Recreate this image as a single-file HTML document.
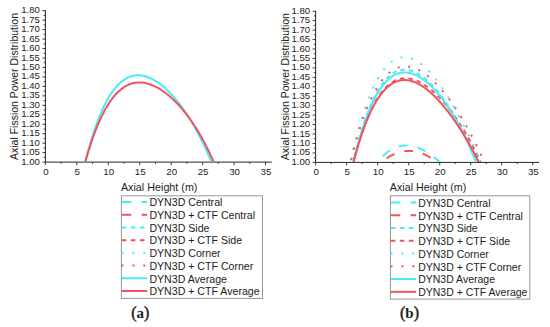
<!DOCTYPE html>
<html><head><meta charset="utf-8"><style>
html,body{margin:0;padding:0;background:#fff;overflow:hidden;}
svg{display:block;font-family:"Liberation Sans",sans-serif;}
text{fill:#1c1c1c;} .b{letter-spacing:0.03px;} .t{fill:#222;}
</style></head><body>
<svg width="550" height="327" viewBox="0 0 550 327">
<defs>
<clipPath id="clipL"><rect x="45.9" y="0" width="226.404" height="161.6"/></clipPath>
<clipPath id="clipR"><rect x="316.1" y="0" width="223.41600000000003" height="161.9"/></clipPath>
</defs>
<path d="M45.4 10.20 V162.1 H271.80" fill="none" stroke="#262626" stroke-width="1"/>
<text x="39.90" y="164.60" text-anchor="end" class="t" font-size="9.6">1.00</text>
<text x="39.90" y="155.14" text-anchor="end" class="t" font-size="9.6">1.05</text>
<text x="39.90" y="145.67" text-anchor="end" class="t" font-size="9.6">1.10</text>
<text x="39.90" y="136.21" text-anchor="end" class="t" font-size="9.6">1.15</text>
<text x="39.90" y="126.75" text-anchor="end" class="t" font-size="9.6">1.20</text>
<text x="39.90" y="117.29" text-anchor="end" class="t" font-size="9.6">1.25</text>
<text x="39.90" y="107.82" text-anchor="end" class="t" font-size="9.6">1.30</text>
<text x="39.90" y="98.36" text-anchor="end" class="t" font-size="9.6">1.35</text>
<text x="39.90" y="88.90" text-anchor="end" class="t" font-size="9.6">1.40</text>
<text x="39.90" y="79.44" text-anchor="end" class="t" font-size="9.6">1.45</text>
<text x="39.90" y="69.97" text-anchor="end" class="t" font-size="9.6">1.50</text>
<text x="39.90" y="60.51" text-anchor="end" class="t" font-size="9.6">1.55</text>
<text x="39.90" y="51.05" text-anchor="end" class="t" font-size="9.6">1.60</text>
<text x="39.90" y="41.59" text-anchor="end" class="t" font-size="9.6">1.65</text>
<text x="39.90" y="32.12" text-anchor="end" class="t" font-size="9.6">1.70</text>
<text x="39.90" y="22.66" text-anchor="end" class="t" font-size="9.6">1.75</text>
<text x="39.90" y="13.20" text-anchor="end" class="t" font-size="9.6">1.80</text>
<text x="45.90" y="174.70" text-anchor="middle" class="t" font-size="9.75">0</text>
<text x="77.34" y="174.70" text-anchor="middle" class="t" font-size="9.75">5</text>
<text x="108.79" y="174.70" text-anchor="middle" class="t" font-size="9.75">10</text>
<text x="140.23" y="174.70" text-anchor="middle" class="t" font-size="9.75">15</text>
<text x="171.68" y="174.70" text-anchor="middle" class="t" font-size="9.75">20</text>
<text x="203.12" y="174.70" text-anchor="middle" class="t" font-size="9.75">25</text>
<text x="234.57" y="174.70" text-anchor="middle" class="t" font-size="9.75">30</text>
<text x="266.01" y="174.70" text-anchor="middle" class="t" font-size="9.75">35</text>
<path d="M42.40 162.10H45.4M43.70 157.37H45.4M42.40 152.64H45.4M43.70 147.91H45.4M42.40 143.17H45.4M43.70 138.44H45.4M42.40 133.71H45.4M43.70 128.98H45.4M42.40 124.25H45.4M43.70 119.52H45.4M42.40 114.79H45.4M43.70 110.06H45.4M42.40 105.32H45.4M43.70 100.59H45.4M42.40 95.86H45.4M43.70 91.13H45.4M42.40 86.40H45.4M43.70 81.67H45.4M42.40 76.94H45.4M43.70 72.21H45.4M42.40 67.47H45.4M43.70 62.74H45.4M42.40 58.01H45.4M43.70 53.28H45.4M42.40 48.55H45.4M43.70 43.82H45.4M42.40 39.09H45.4M43.70 34.36H45.4M42.40 29.62H45.4M43.70 24.89H45.4M42.40 20.16H45.4M43.70 15.43H45.4M42.40 10.70H45.4M45.40 162.1V165.1M61.12 162.1V163.79999999999998M76.84 162.1V165.1M92.57 162.1V163.79999999999998M108.29 162.1V165.1M124.01 162.1V163.79999999999998M139.73 162.1V165.1M155.46 162.1V163.79999999999998M171.18 162.1V165.1M186.90 162.1V163.79999999999998M202.62 162.1V165.1M218.35 162.1V163.79999999999998M234.07 162.1V165.1M249.79 162.1V163.79999999999998M265.51 162.1V165.1" stroke="#262626" stroke-width="0.9" fill="none"/>
<text transform="translate(18.3 86.5) rotate(-90)" text-anchor="middle" font-size="10.5">Axial Fission Power Distribution</text>
<text x="159.2" y="191.0" text-anchor="middle" class="b" font-size="10.7">Axial Height (m)</text>
<g clip-path="url(#clipL)">
<path d="M84.82 163.60 L85.46 161.05 L86.10 158.54 L86.74 156.09 L87.38 153.68 L88.02 151.32 L88.66 149.01 L89.30 146.75 L89.94 144.53 L90.58 142.35 L91.21 140.23 L91.85 138.14 L92.49 136.10 L93.13 134.10 L93.77 132.15 L94.41 130.24 L95.05 128.37 L95.69 126.54 L96.33 124.75 L96.96 123.00 L97.60 121.29 L98.24 119.63 L98.88 118.00 L99.52 116.40 L100.16 114.85 L100.80 113.33 L101.44 111.85 L102.08 110.41 L102.72 109.00 L103.35 107.63 L103.99 106.30 L104.63 104.99 L105.27 103.73 L105.91 102.49 L106.55 101.29 L107.19 100.12 L107.83 98.99 L108.47 97.88 L109.10 96.81 L109.74 95.77 L110.38 94.76 L111.02 93.78 L111.66 92.83 L112.30 91.91 L112.94 91.02 L113.58 90.16 L114.22 89.32 L114.86 88.52 L115.49 87.74 L116.13 86.99 L116.77 86.27 L117.41 85.57 L118.05 84.90 L118.69 84.25 L119.33 83.63 L119.97 83.04 L120.61 82.47 L121.24 81.92 L121.88 81.40 L122.52 80.90 L123.16 80.43 L123.80 79.97 L124.44 79.55 L125.08 79.14 L125.72 78.76 L126.36 78.39 L126.99 78.05 L127.63 77.73 L128.27 77.44 L128.91 77.16 L129.55 76.90 L130.19 76.67 L130.83 76.45 L131.47 76.25 L132.11 76.07 L132.75 75.91 L133.38 75.77 L134.02 75.65 L134.66 75.55 L135.30 75.47 L135.94 75.40 L136.58 75.35 L137.22 75.32 L137.86 75.30 L138.50 75.30 L139.13 75.32 L139.77 75.36 L140.41 75.41 L141.05 75.48 L141.69 75.56 L142.33 75.66 L142.97 75.78 L143.61 75.91 L144.25 76.05 L144.89 76.21 L145.52 76.39 L146.16 76.58 L146.80 76.78 L147.44 77.00 L148.08 77.23 L148.72 77.48 L149.36 77.74 L150.00 78.01 L150.64 78.30 L151.27 78.60 L151.91 78.91 L152.55 79.24 L153.19 79.58 L153.83 79.93 L154.47 80.30 L155.11 80.68 L155.75 81.07 L156.39 81.47 L157.02 81.89 L157.66 82.32 L158.30 82.76 L158.94 83.21 L159.58 83.67 L160.22 84.15 L160.86 84.64 L161.50 85.14 L162.14 85.65 L162.78 86.17 L163.41 86.71 L164.05 87.26 L164.69 87.81 L165.33 88.38 L165.97 88.97 L166.61 89.56 L167.25 90.16 L167.89 90.78 L168.53 91.40 L169.16 92.04 L169.80 92.69 L170.44 93.35 L171.08 94.02 L171.72 94.71 L172.36 95.40 L173.00 96.11 L173.64 96.82 L174.28 97.55 L174.92 98.29 L175.55 99.04 L176.19 99.80 L176.83 100.58 L177.47 101.36 L178.11 102.16 L178.75 102.97 L179.39 103.79 L180.03 104.62 L180.67 105.46 L181.30 106.32 L181.94 107.19 L182.58 108.07 L183.22 108.96 L183.86 109.86 L184.50 110.78 L185.14 111.70 L185.78 112.64 L186.42 113.60 L187.06 114.56 L187.69 115.54 L188.33 116.53 L188.97 117.54 L189.61 118.55 L190.25 119.58 L190.89 120.62 L191.53 121.68 L192.17 122.75 L192.81 123.84 L193.44 124.93 L194.08 126.04 L194.72 127.17 L195.36 128.31 L196.00 129.47 L196.64 130.63 L197.28 131.82 L197.92 133.02 L198.56 134.23 L199.19 135.46 L199.83 136.71 L200.47 137.97 L201.11 139.24 L201.75 140.54 L202.39 141.85 L203.03 143.17 L203.67 144.52 L204.31 145.87 L204.95 147.25 L205.58 148.65 L206.22 150.06 L206.86 151.49 L207.50 152.94 L208.14 154.40 L208.78 155.89 L209.42 157.39 L210.06 158.91 L210.70 160.46 L211.33 162.02 L211.97 163.60" fill="none" stroke="#48ECF6" stroke-width="2"/>
<path d="M84.85 163.60 L85.50 161.25 L86.15 158.95 L86.80 156.69 L87.45 154.48 L88.10 152.31 L88.75 150.18 L89.41 148.10 L90.06 146.06 L90.71 144.07 L91.36 142.11 L92.01 140.20 L92.66 138.32 L93.31 136.49 L93.96 134.70 L94.61 132.94 L95.26 131.22 L95.92 129.55 L96.57 127.91 L97.22 126.30 L97.87 124.73 L98.52 123.20 L99.17 121.71 L99.82 120.25 L100.47 118.83 L101.12 117.44 L101.78 116.08 L102.43 114.76 L103.08 113.47 L103.73 112.21 L104.38 110.99 L105.03 109.79 L105.68 108.63 L106.33 107.50 L106.98 106.40 L107.63 105.33 L108.29 104.29 L108.94 103.28 L109.59 102.30 L110.24 101.34 L110.89 100.42 L111.54 99.52 L112.19 98.65 L112.84 97.81 L113.49 96.99 L114.14 96.20 L114.80 95.44 L115.45 94.70 L116.10 93.99 L116.75 93.30 L117.40 92.63 L118.05 91.99 L118.70 91.38 L119.35 90.79 L120.00 90.22 L120.65 89.67 L121.31 89.15 L121.96 88.64 L122.61 88.16 L123.26 87.71 L123.91 87.27 L124.56 86.85 L125.21 86.46 L125.86 86.08 L126.51 85.73 L127.17 85.39 L127.82 85.08 L128.47 84.78 L129.12 84.51 L129.77 84.25 L130.42 84.01 L131.07 83.79 L131.72 83.59 L132.37 83.40 L133.02 83.23 L133.68 83.08 L134.33 82.95 L134.98 82.83 L135.63 82.73 L136.28 82.65 L136.93 82.58 L137.58 82.53 L138.23 82.49 L138.88 82.47 L139.53 82.46 L140.19 82.47 L140.84 82.50 L141.49 82.54 L142.14 82.59 L142.79 82.66 L143.44 82.74 L144.09 82.84 L144.74 82.95 L145.39 83.07 L146.05 83.21 L146.70 83.36 L147.35 83.52 L148.00 83.70 L148.65 83.89 L149.30 84.09 L149.95 84.31 L150.60 84.54 L151.25 84.78 L151.90 85.03 L152.56 85.29 L153.21 85.57 L153.86 85.86 L154.51 86.16 L155.16 86.47 L155.81 86.80 L156.46 87.13 L157.11 87.48 L157.76 87.84 L158.41 88.21 L159.07 88.59 L159.72 88.98 L160.37 89.38 L161.02 89.79 L161.67 90.22 L162.32 90.65 L162.97 91.10 L163.62 91.56 L164.27 92.02 L164.92 92.50 L165.58 92.99 L166.23 93.49 L166.88 94.00 L167.53 94.52 L168.18 95.05 L168.83 95.60 L169.48 96.15 L170.13 96.71 L170.78 97.29 L171.44 97.87 L172.09 98.47 L172.74 99.07 L173.39 99.69 L174.04 100.31 L174.69 100.95 L175.34 101.60 L175.99 102.26 L176.64 102.93 L177.29 103.61 L177.95 104.30 L178.60 105.00 L179.25 105.71 L179.90 106.44 L180.55 107.17 L181.20 107.92 L181.85 108.67 L182.50 109.44 L183.15 110.22 L183.80 111.01 L184.46 111.82 L185.11 112.63 L185.76 113.46 L186.41 114.29 L187.06 115.14 L187.71 116.00 L188.36 116.88 L189.01 117.76 L189.66 118.66 L190.32 119.57 L190.97 120.50 L191.62 121.43 L192.27 122.38 L192.92 123.34 L193.57 124.32 L194.22 125.31 L194.87 126.31 L195.52 127.33 L196.17 128.36 L196.83 129.40 L197.48 130.46 L198.13 131.53 L198.78 132.62 L199.43 133.72 L200.08 134.84 L200.73 135.97 L201.38 137.11 L202.03 138.28 L202.68 139.45 L203.34 140.65 L203.99 141.86 L204.64 143.08 L205.29 144.33 L205.94 145.59 L206.59 146.86 L207.24 148.16 L207.89 149.47 L208.54 150.80 L209.19 152.14 L209.85 153.51 L210.50 154.89 L211.15 156.30 L211.80 157.72 L212.45 159.16 L213.10 160.62 L213.75 162.10 L214.40 163.60" fill="none" stroke="#F4525A" stroke-width="2"/>
</g>
<rect x="121.4" y="195.8" width="141.1" height="102.6" fill="#fff" stroke="#969696" stroke-width="1"/>
<path d="M121.80 202.00h9.5M141.60 202.00H147.20" stroke="#48ECF6" stroke-width="2"/>
<text x="149.40" y="206.25" font-size="10.6">DYN3D Central</text>
<path d="M121.80 214.71h9.5M141.60 214.71H147.20" stroke="#F4525A" stroke-width="2"/>
<text x="149.40" y="218.96" font-size="10.6">DYN3D + CTF Central</text>
<path d="M121.80 227.42h4.6m4.4 0h4.6m4.4 0h4.6" stroke="#48ECF6" stroke-width="2"/>
<text x="149.40" y="231.67" font-size="10.6">DYN3D Side</text>
<path d="M121.80 240.13h4.6m4.4 0h4.6m4.4 0h4.6" stroke="#F4525A" stroke-width="2"/>
<text x="149.40" y="244.38" font-size="10.6">DYN3D + CTF Side</text>
<path d="M121.50 252.84h2m8.9 0h2m8.9 0h2" stroke="#48ECF6" stroke-width="2"/>
<text x="149.40" y="257.09" font-size="10.6">DYN3D Corner</text>
<path d="M121.50 265.55h2m8.9 0h2m8.9 0h2" stroke="#F4525A" stroke-width="2"/>
<text x="149.40" y="269.80" font-size="10.6">DYN3D + CTF Corner</text>
<path d="M121.80 278.26H147.20" stroke="#48ECF6" stroke-width="2"/>
<text x="149.40" y="282.51" font-size="10.6">DYN3D Average</text>
<path d="M121.80 290.97H147.20" stroke="#F4525A" stroke-width="2"/>
<text x="149.40" y="295.22" font-size="10.6">DYN3D + CTF Average</text>
<text x="140.3" y="317.6" text-anchor="middle" font-family="Liberation Serif, serif" font-weight="bold" font-size="15" style="stroke:none"><tspan font-size="16" font-weight="normal" dy="0.5" style="stroke:#161616;stroke-width:0.45px">(</tspan><tspan dy="-0.5">a</tspan><tspan font-size="16" font-weight="normal" dy="0.5" style="stroke:#161616;stroke-width:0.45px">)</tspan></text>
<path d="M315.6 10.70 V162.4 H539.02" fill="none" stroke="#262626" stroke-width="1"/>
<text x="310.10" y="164.90" text-anchor="end" class="t" font-size="9.6">1.00</text>
<text x="310.10" y="155.45" text-anchor="end" class="t" font-size="9.6">1.05</text>
<text x="310.10" y="146.00" text-anchor="end" class="t" font-size="9.6">1.10</text>
<text x="310.10" y="136.55" text-anchor="end" class="t" font-size="9.6">1.15</text>
<text x="310.10" y="127.10" text-anchor="end" class="t" font-size="9.6">1.20</text>
<text x="310.10" y="117.65" text-anchor="end" class="t" font-size="9.6">1.25</text>
<text x="310.10" y="108.20" text-anchor="end" class="t" font-size="9.6">1.30</text>
<text x="310.10" y="98.75" text-anchor="end" class="t" font-size="9.6">1.35</text>
<text x="310.10" y="89.30" text-anchor="end" class="t" font-size="9.6">1.40</text>
<text x="310.10" y="79.85" text-anchor="end" class="t" font-size="9.6">1.45</text>
<text x="310.10" y="70.40" text-anchor="end" class="t" font-size="9.6">1.50</text>
<text x="310.10" y="60.95" text-anchor="end" class="t" font-size="9.6">1.55</text>
<text x="310.10" y="51.50" text-anchor="end" class="t" font-size="9.6">1.60</text>
<text x="310.10" y="42.05" text-anchor="end" class="t" font-size="9.6">1.65</text>
<text x="310.10" y="32.60" text-anchor="end" class="t" font-size="9.6">1.70</text>
<text x="310.10" y="23.15" text-anchor="end" class="t" font-size="9.6">1.75</text>
<text x="310.10" y="13.70" text-anchor="end" class="t" font-size="9.6">1.80</text>
<text x="316.10" y="175.00" text-anchor="middle" class="t" font-size="9.75">0</text>
<text x="347.13" y="175.00" text-anchor="middle" class="t" font-size="9.75">5</text>
<text x="378.16" y="175.00" text-anchor="middle" class="t" font-size="9.75">10</text>
<text x="409.19" y="175.00" text-anchor="middle" class="t" font-size="9.75">15</text>
<text x="440.22" y="175.00" text-anchor="middle" class="t" font-size="9.75">20</text>
<text x="471.25" y="175.00" text-anchor="middle" class="t" font-size="9.75">25</text>
<text x="502.28" y="175.00" text-anchor="middle" class="t" font-size="9.75">30</text>
<text x="533.31" y="175.00" text-anchor="middle" class="t" font-size="9.75">35</text>
<path d="M312.60 162.40H315.6M313.90 157.68H315.6M312.60 152.95H315.6M313.90 148.22H315.6M312.60 143.50H315.6M313.90 138.78H315.6M312.60 134.05H315.6M313.90 129.32H315.6M312.60 124.60H315.6M313.90 119.88H315.6M312.60 115.15H315.6M313.90 110.43H315.6M312.60 105.70H315.6M313.90 100.97H315.6M312.60 96.25H315.6M313.90 91.53H315.6M312.60 86.80H315.6M313.90 82.08H315.6M312.60 77.35H315.6M313.90 72.62H315.6M312.60 67.90H315.6M313.90 63.17H315.6M312.60 58.45H315.6M313.90 53.72H315.6M312.60 49.00H315.6M313.90 44.28H315.6M312.60 39.55H315.6M313.90 34.83H315.6M312.60 30.10H315.6M313.90 25.38H315.6M312.60 20.65H315.6M313.90 15.93H315.6M312.60 11.20H315.6M315.60 162.4V165.4M331.12 162.4V164.1M346.63 162.4V165.4M362.15 162.4V164.1M377.66 162.4V165.4M393.18 162.4V164.1M408.69 162.4V165.4M424.21 162.4V164.1M439.72 162.4V165.4M455.24 162.4V164.1M470.75 162.4V165.4M486.27 162.4V164.1M501.78 162.4V165.4M517.30 162.4V164.1M532.81 162.4V165.4" stroke="#262626" stroke-width="0.9" fill="none"/>
<text transform="translate(288.6 86.6) rotate(-90)" text-anchor="middle" font-size="10.5">Axial Fission Power Distribution</text>
<text x="428.0" y="191.4" text-anchor="middle" class="b" font-size="10.7">Axial Height (m)</text>
<g clip-path="url(#clipR)">
<path d="M375.78 163.90 L376.11 163.48 L376.44 163.06 L376.77 162.65 L377.10 162.24 L377.43 161.84 L377.77 161.45 L378.10 161.06 L378.43 160.67 L378.76 160.29 L379.09 159.92 L379.42 159.55 L379.76 159.18 L380.09 158.83 L380.42 158.47 L380.75 158.12 L381.08 157.78 L381.41 157.44 L381.74 157.11 L382.08 156.78 L382.41 156.46 L382.74 156.14 L383.07 155.83 L383.40 155.52 L383.73 155.22 L384.07 154.92 L384.40 154.63 L384.73 154.34 L385.06 154.06 L385.39 153.78 L385.72 153.51 L386.05 153.24 L386.39 152.98 L386.72 152.72 L387.05 152.47 L387.38 152.22 L387.71 151.98 L388.04 151.74 L388.37 151.50 L388.71 151.27 L389.04 151.05 L389.37 150.83 L389.70 150.61 L390.03 150.40 L390.36 150.20 L390.70 150.00 L391.03 149.80 L391.36 149.61 L391.69 149.42 L392.02 149.24 L392.35 149.06 L392.68 148.89 L393.02 148.72 L393.35 148.56 L393.68 148.40 L394.01 148.24 L394.34 148.09 L394.67 147.94 L395.01 147.80 L395.34 147.67 L395.67 147.53 L396.00 147.40 L396.33 147.28 L396.66 147.16 L396.99 147.04 L397.33 146.93 L397.66 146.83 L397.99 146.72 L398.32 146.62 L398.65 146.53 L398.98 146.44 L399.31 146.35 L399.65 146.27 L399.98 146.20 L400.31 146.12 L400.64 146.05 L400.97 145.99 L401.30 145.93 L401.64 145.87 L401.97 145.82 L402.30 145.77 L402.63 145.72 L402.96 145.68 L403.29 145.65 L403.62 145.61 L403.96 145.59 L404.29 145.56 L404.62 145.54 L404.95 145.52 L405.28 145.51 L405.61 145.50 L405.95 145.50 L406.28 145.49 L406.61 145.50 L406.94 145.50 L407.27 145.51 L407.60 145.53 L407.93 145.54 L408.27 145.57 L408.60 145.59 L408.93 145.62 L409.26 145.65 L409.59 145.69 L409.92 145.73 L410.25 145.77 L410.59 145.82 L410.92 145.87 L411.25 145.92 L411.58 145.98 L411.91 146.04 L412.24 146.11 L412.58 146.17 L412.91 146.25 L413.24 146.32 L413.57 146.40 L413.90 146.48 L414.23 146.57 L414.56 146.66 L414.90 146.75 L415.23 146.85 L415.56 146.94 L415.89 147.05 L416.22 147.15 L416.55 147.26 L416.89 147.37 L417.22 147.49 L417.55 147.61 L417.88 147.73 L418.21 147.86 L418.54 147.99 L418.87 148.12 L419.21 148.25 L419.54 148.39 L419.87 148.53 L420.20 148.68 L420.53 148.82 L420.86 148.97 L421.19 149.13 L421.53 149.28 L421.86 149.44 L422.19 149.61 L422.52 149.77 L422.85 149.94 L423.18 150.11 L423.52 150.29 L423.85 150.46 L424.18 150.64 L424.51 150.83 L424.84 151.01 L425.17 151.20 L425.50 151.39 L425.84 151.59 L426.17 151.79 L426.50 151.99 L426.83 152.19 L427.16 152.39 L427.49 152.60 L427.83 152.81 L428.16 153.03 L428.49 153.24 L428.82 153.46 L429.15 153.69 L429.48 153.91 L429.81 154.14 L430.15 154.37 L430.48 154.60 L430.81 154.83 L431.14 155.07 L431.47 155.31 L431.80 155.55 L432.13 155.80 L432.47 156.04 L432.80 156.29 L433.13 156.55 L433.46 156.80 L433.79 157.06 L434.12 157.32 L434.46 157.58 L434.79 157.84 L435.12 158.11 L435.45 158.38 L435.78 158.65 L436.11 158.92 L436.44 159.20 L436.78 159.48 L437.11 159.76 L437.44 160.04 L437.77 160.32 L438.10 160.61 L438.43 160.90 L438.77 161.19 L439.10 161.48 L439.43 161.78 L439.76 162.07 L440.09 162.37 L440.42 162.67 L440.75 162.98 L441.09 163.28 L441.42 163.59 L441.75 163.90" fill="none" stroke="#48ECF6" stroke-width="2" stroke-dasharray="9 10" stroke-dashoffset="8.79"/>
<path d="M379.13 163.90 L379.43 163.64 L379.73 163.39 L380.03 163.14 L380.33 162.89 L380.63 162.64 L380.93 162.40 L381.22 162.16 L381.52 161.92 L381.82 161.68 L382.12 161.45 L382.42 161.22 L382.72 160.99 L383.02 160.76 L383.31 160.54 L383.61 160.32 L383.91 160.10 L384.21 159.88 L384.51 159.67 L384.81 159.46 L385.11 159.25 L385.40 159.04 L385.70 158.84 L386.00 158.64 L386.30 158.44 L386.60 158.25 L386.90 158.05 L387.20 157.86 L387.49 157.67 L387.79 157.49 L388.09 157.30 L388.39 157.12 L388.69 156.95 L388.99 156.77 L389.29 156.60 L389.58 156.43 L389.88 156.26 L390.18 156.09 L390.48 155.93 L390.78 155.77 L391.08 155.61 L391.38 155.46 L391.67 155.31 L391.97 155.16 L392.27 155.01 L392.57 154.86 L392.87 154.72 L393.17 154.58 L393.47 154.44 L393.76 154.31 L394.06 154.18 L394.36 154.05 L394.66 153.92 L394.96 153.80 L395.26 153.68 L395.56 153.56 L395.85 153.44 L396.15 153.33 L396.45 153.21 L396.75 153.11 L397.05 153.00 L397.35 152.90 L397.65 152.79 L397.94 152.70 L398.24 152.60 L398.54 152.51 L398.84 152.42 L399.14 152.33 L399.44 152.24 L399.74 152.16 L400.03 152.08 L400.33 152.00 L400.63 151.93 L400.93 151.85 L401.23 151.78 L401.53 151.72 L401.83 151.65 L402.12 151.59 L402.42 151.53 L402.72 151.47 L403.02 151.42 L403.32 151.37 L403.62 151.32 L403.92 151.27 L404.21 151.23 L404.51 151.18 L404.81 151.15 L405.11 151.11 L405.41 151.08 L405.71 151.05 L406.01 151.02 L406.30 150.99 L406.60 150.97 L406.90 150.95 L407.20 150.93 L407.50 150.91 L407.80 150.90 L408.10 150.89 L408.39 150.89 L408.69 150.88 L408.99 150.88 L409.29 150.88 L409.59 150.88 L409.89 150.89 L410.19 150.90 L410.48 150.91 L410.78 150.92 L411.08 150.94 L411.38 150.96 L411.68 150.98 L411.98 151.00 L412.28 151.03 L412.57 151.06 L412.87 151.09 L413.17 151.13 L413.47 151.16 L413.77 151.20 L414.07 151.25 L414.37 151.29 L414.66 151.34 L414.96 151.39 L415.26 151.45 L415.56 151.50 L415.86 151.56 L416.16 151.62 L416.46 151.69 L416.75 151.75 L417.05 151.82 L417.35 151.89 L417.65 151.97 L417.95 152.05 L418.25 152.13 L418.55 152.21 L418.84 152.29 L419.14 152.38 L419.44 152.47 L419.74 152.57 L420.04 152.66 L420.34 152.76 L420.64 152.86 L420.93 152.97 L421.23 153.07 L421.53 153.18 L421.83 153.30 L422.13 153.41 L422.43 153.53 L422.73 153.65 L423.02 153.77 L423.32 153.90 L423.62 154.03 L423.92 154.16 L424.22 154.29 L424.52 154.43 L424.82 154.57 L425.11 154.71 L425.41 154.85 L425.71 155.00 L426.01 155.15 L426.31 155.30 L426.61 155.46 L426.91 155.61 L427.20 155.78 L427.50 155.94 L427.80 156.11 L428.10 156.27 L428.40 156.45 L428.70 156.62 L429.00 156.80 L429.29 156.98 L429.59 157.16 L429.89 157.34 L430.19 157.53 L430.49 157.72 L430.79 157.92 L431.08 158.11 L431.38 158.31 L431.68 158.51 L431.98 158.72 L432.28 158.92 L432.58 159.13 L432.88 159.35 L433.17 159.56 L433.47 159.78 L433.77 160.00 L434.07 160.22 L434.37 160.45 L434.67 160.68 L434.97 160.91 L435.26 161.14 L435.56 161.38 L435.86 161.62 L436.16 161.86 L436.46 162.11 L436.76 162.35 L437.06 162.61 L437.35 162.86 L437.65 163.11 L437.95 163.37 L438.25 163.64 L438.55 163.90" fill="none" stroke="#F4525A" stroke-width="2" stroke-dasharray="9 10" stroke-dashoffset="9.6"/>
<path d="M352.94 163.90 L353.57 161.19 L354.19 158.54 L354.82 155.93 L355.45 153.37 L356.07 150.87 L356.70 148.41 L357.33 146.00 L357.95 143.64 L358.58 141.32 L359.20 139.05 L359.83 136.83 L360.46 134.66 L361.08 132.52 L361.71 130.44 L362.33 128.40 L362.96 126.40 L363.59 124.44 L364.21 122.53 L364.84 120.66 L365.47 118.83 L366.09 117.05 L366.72 115.30 L367.34 113.60 L367.97 111.93 L368.60 110.30 L369.22 108.72 L369.85 107.17 L370.48 105.66 L371.10 104.18 L371.73 102.75 L372.35 101.35 L372.98 99.99 L373.61 98.66 L374.23 97.37 L374.86 96.11 L375.48 94.89 L376.11 93.70 L376.74 92.55 L377.36 91.43 L377.99 90.34 L378.62 89.29 L379.24 88.27 L379.87 87.28 L380.49 86.32 L381.12 85.39 L381.75 84.49 L382.37 83.63 L383.00 82.79 L383.63 81.98 L384.25 81.20 L384.88 80.45 L385.50 79.73 L386.13 79.04 L386.76 78.37 L387.38 77.73 L388.01 77.12 L388.63 76.54 L389.26 75.98 L389.89 75.45 L390.51 74.94 L391.14 74.46 L391.77 74.01 L392.39 73.58 L393.02 73.17 L393.64 72.79 L394.27 72.43 L394.90 72.09 L395.52 71.78 L396.15 71.49 L396.78 71.22 L397.40 70.98 L398.03 70.76 L398.65 70.56 L399.28 70.38 L399.91 70.22 L400.53 70.08 L401.16 69.97 L401.78 69.87 L402.41 69.79 L403.04 69.74 L403.66 69.70 L404.29 69.68 L404.92 69.69 L405.54 69.71 L406.17 69.75 L406.79 69.81 L407.42 69.88 L408.05 69.98 L408.67 70.09 L409.30 70.22 L409.93 70.36 L410.55 70.53 L411.18 70.71 L411.80 70.91 L412.43 71.12 L413.06 71.35 L413.68 71.60 L414.31 71.86 L414.93 72.14 L415.56 72.43 L416.19 72.74 L416.81 73.06 L417.44 73.40 L418.07 73.75 L418.69 74.12 L419.32 74.50 L419.94 74.90 L420.57 75.31 L421.20 75.74 L421.82 76.18 L422.45 76.63 L423.08 77.10 L423.70 77.58 L424.33 78.07 L424.95 78.58 L425.58 79.10 L426.21 79.63 L426.83 80.18 L427.46 80.74 L428.09 81.31 L428.71 81.89 L429.34 82.49 L429.96 83.10 L430.59 83.72 L431.22 84.36 L431.84 85.00 L432.47 85.66 L433.09 86.33 L433.72 87.01 L434.35 87.70 L434.97 88.41 L435.60 89.12 L436.23 89.85 L436.85 90.59 L437.48 91.34 L438.10 92.11 L438.73 92.88 L439.36 93.67 L439.98 94.47 L440.61 95.27 L441.24 96.09 L441.86 96.92 L442.49 97.77 L443.11 98.62 L443.74 99.49 L444.37 100.36 L444.99 101.25 L445.62 102.15 L446.24 103.06 L446.87 103.98 L447.50 104.91 L448.12 105.85 L448.75 106.81 L449.38 107.77 L450.00 108.75 L450.63 109.74 L451.25 110.74 L451.88 111.75 L452.51 112.77 L453.13 113.80 L453.76 114.85 L454.39 115.90 L455.01 116.97 L455.64 118.05 L456.26 119.14 L456.89 120.25 L457.52 121.36 L458.14 122.49 L458.77 123.63 L459.39 124.78 L460.02 125.94 L460.65 127.12 L461.27 128.31 L461.90 129.51 L462.53 130.72 L463.15 131.95 L463.78 133.18 L464.40 134.44 L465.03 135.70 L465.66 136.98 L466.28 138.27 L466.91 139.57 L467.54 140.89 L468.16 142.22 L468.79 143.56 L469.41 144.92 L470.04 146.29 L470.67 147.68 L471.29 149.08 L471.92 150.49 L472.54 151.92 L473.17 153.37 L473.80 154.82 L474.42 156.30 L475.05 157.79 L475.68 159.29 L476.30 160.81 L476.93 162.35 L477.55 163.90" fill="none" stroke="#48ECF6" stroke-width="2" stroke-dasharray="4.4 4.0" stroke-dashoffset="0.15"/>
<path d="M353.04 163.90 L353.68 161.37 L354.33 158.89 L354.97 156.46 L355.62 154.08 L356.26 151.74 L356.91 149.46 L357.55 147.22 L358.20 145.02 L358.84 142.88 L359.49 140.77 L360.13 138.71 L360.78 136.70 L361.42 134.73 L362.06 132.80 L362.71 130.91 L363.35 129.07 L364.00 127.27 L364.64 125.51 L365.29 123.79 L365.93 122.11 L366.58 120.47 L367.22 118.86 L367.87 117.30 L368.51 115.78 L369.15 114.29 L369.80 112.84 L370.44 111.42 L371.09 110.05 L371.73 108.71 L372.38 107.40 L373.02 106.13 L373.67 104.89 L374.31 103.69 L374.96 102.52 L375.60 101.38 L376.25 100.28 L376.89 99.21 L377.53 98.17 L378.18 97.16 L378.82 96.18 L379.47 95.23 L380.11 94.32 L380.76 93.43 L381.40 92.57 L382.05 91.74 L382.69 90.94 L383.34 90.17 L383.98 89.43 L384.62 88.71 L385.27 88.02 L385.91 87.36 L386.56 86.72 L387.20 86.11 L387.85 85.53 L388.49 84.97 L389.14 84.44 L389.78 83.93 L390.43 83.44 L391.07 82.98 L391.71 82.54 L392.36 82.13 L393.00 81.74 L393.65 81.37 L394.29 81.02 L394.94 80.69 L395.58 80.39 L396.23 80.11 L396.87 79.85 L397.52 79.61 L398.16 79.39 L398.81 79.19 L399.45 79.01 L400.09 78.85 L400.74 78.71 L401.38 78.59 L402.03 78.49 L402.67 78.40 L403.32 78.34 L403.96 78.29 L404.61 78.26 L405.25 78.25 L405.90 78.25 L406.54 78.27 L407.18 78.31 L407.83 78.37 L408.47 78.44 L409.12 78.53 L409.76 78.63 L410.41 78.75 L411.05 78.88 L411.70 79.03 L412.34 79.20 L412.99 79.38 L413.63 79.57 L414.28 79.78 L414.92 80.00 L415.56 80.24 L416.21 80.49 L416.85 80.76 L417.50 81.04 L418.14 81.33 L418.79 81.63 L419.43 81.95 L420.08 82.28 L420.72 82.62 L421.37 82.98 L422.01 83.35 L422.65 83.73 L423.30 84.12 L423.94 84.53 L424.59 84.95 L425.23 85.38 L425.88 85.82 L426.52 86.27 L427.17 86.73 L427.81 87.21 L428.46 87.69 L429.10 88.19 L429.75 88.70 L430.39 89.22 L431.03 89.75 L431.68 90.29 L432.32 90.84 L432.97 91.40 L433.61 91.98 L434.26 92.56 L434.90 93.15 L435.55 93.76 L436.19 94.37 L436.84 95.00 L437.48 95.63 L438.12 96.27 L438.77 96.93 L439.41 97.59 L440.06 98.27 L440.70 98.95 L441.35 99.65 L441.99 100.35 L442.64 101.07 L443.28 101.79 L443.93 102.53 L444.57 103.27 L445.22 104.03 L445.86 104.79 L446.50 105.57 L447.15 106.35 L447.79 107.15 L448.44 107.95 L449.08 108.76 L449.73 109.59 L450.37 110.42 L451.02 111.27 L451.66 112.12 L452.31 112.99 L452.95 113.86 L453.59 114.75 L454.24 115.64 L454.88 116.55 L455.53 117.46 L456.17 118.39 L456.82 119.33 L457.46 120.27 L458.11 121.23 L458.75 122.20 L459.40 123.18 L460.04 124.18 L460.68 125.18 L461.33 126.19 L461.97 127.22 L462.62 128.25 L463.26 129.30 L463.91 130.36 L464.55 131.43 L465.20 132.52 L465.84 133.61 L466.49 134.72 L467.13 135.84 L467.78 136.97 L468.42 138.11 L469.06 139.27 L469.71 140.44 L470.35 141.63 L471.00 142.82 L471.64 144.03 L472.29 145.25 L472.93 146.49 L473.58 147.74 L474.22 149.01 L474.87 150.29 L475.51 151.58 L476.15 152.89 L476.80 154.21 L477.44 155.55 L478.09 156.90 L478.73 158.27 L479.38 159.65 L480.02 161.05 L480.67 162.47 L481.31 163.90" fill="none" stroke="#F4525A" stroke-width="2" stroke-dasharray="4.4 4.25" stroke-dashoffset="3.23"/>
<path d="M349.89 163.90 L350.55 160.92 L351.22 157.99 L351.88 155.12 L352.54 152.29 L353.20 149.52 L353.86 146.80 L354.52 144.13 L355.18 141.51 L355.84 138.93 L356.50 136.41 L357.17 133.94 L357.83 131.51 L358.49 129.13 L359.15 126.80 L359.81 124.51 L360.47 122.27 L361.13 120.08 L361.79 117.93 L362.45 115.83 L363.12 113.77 L363.78 111.76 L364.44 109.78 L365.10 107.86 L365.76 105.97 L366.42 104.13 L367.08 102.33 L367.74 100.57 L368.40 98.85 L369.06 97.18 L369.73 95.54 L370.39 93.95 L371.05 92.39 L371.71 90.87 L372.37 89.40 L373.03 87.96 L373.69 86.56 L374.35 85.19 L375.01 83.87 L375.68 82.58 L376.34 81.32 L377.00 80.11 L377.66 78.93 L378.32 77.78 L378.98 76.67 L379.64 75.60 L380.30 74.56 L380.96 73.55 L381.62 72.58 L382.29 71.64 L382.95 70.73 L383.61 69.86 L384.27 69.02 L384.93 68.21 L385.59 67.43 L386.25 66.69 L386.91 65.97 L387.57 65.29 L388.24 64.63 L388.90 64.01 L389.56 63.41 L390.22 62.85 L390.88 62.31 L391.54 61.81 L392.20 61.33 L392.86 60.88 L393.52 60.45 L394.19 60.06 L394.85 59.69 L395.51 59.35 L396.17 59.04 L396.83 58.75 L397.49 58.49 L398.15 58.25 L398.81 58.04 L399.47 57.85 L400.13 57.69 L400.80 57.56 L401.46 57.44 L402.12 57.36 L402.78 57.29 L403.44 57.25 L404.10 57.24 L404.76 57.24 L405.42 57.27 L406.08 57.32 L406.75 57.39 L407.41 57.49 L408.07 57.61 L408.73 57.75 L409.39 57.91 L410.05 58.09 L410.71 58.29 L411.37 58.51 L412.03 58.75 L412.70 59.02 L413.36 59.30 L414.02 59.60 L414.68 59.92 L415.34 60.26 L416.00 60.62 L416.66 61.00 L417.32 61.40 L417.98 61.81 L418.64 62.24 L419.31 62.69 L419.97 63.16 L420.63 63.65 L421.29 64.15 L421.95 64.67 L422.61 65.21 L423.27 65.76 L423.93 66.33 L424.59 66.92 L425.26 67.52 L425.92 68.14 L426.58 68.77 L427.24 69.42 L427.90 70.09 L428.56 70.77 L429.22 71.46 L429.88 72.17 L430.54 72.90 L431.21 73.64 L431.87 74.39 L432.53 75.16 L433.19 75.94 L433.85 76.74 L434.51 77.55 L435.17 78.37 L435.83 79.21 L436.49 80.06 L437.15 80.92 L437.82 81.80 L438.48 82.69 L439.14 83.59 L439.80 84.51 L440.46 85.43 L441.12 86.37 L441.78 87.33 L442.44 88.29 L443.10 89.27 L443.77 90.26 L444.43 91.26 L445.09 92.27 L445.75 93.29 L446.41 94.33 L447.07 95.38 L447.73 96.43 L448.39 97.50 L449.05 98.58 L449.71 99.67 L450.38 100.78 L451.04 101.89 L451.70 103.01 L452.36 104.15 L453.02 105.29 L453.68 106.45 L454.34 107.62 L455.00 108.79 L455.66 109.98 L456.33 111.18 L456.99 112.39 L457.65 113.60 L458.31 114.83 L458.97 116.07 L459.63 117.32 L460.29 118.58 L460.95 119.84 L461.61 121.12 L462.28 122.41 L462.94 123.71 L463.60 125.01 L464.26 126.33 L464.92 127.65 L465.58 128.99 L466.24 130.34 L466.90 131.69 L467.56 133.06 L468.22 134.43 L468.89 135.81 L469.55 137.21 L470.21 138.61 L470.87 140.02 L471.53 141.44 L472.19 142.87 L472.85 144.31 L473.51 145.76 L474.17 147.22 L474.84 148.69 L475.50 150.17 L476.16 151.66 L476.82 153.15 L477.48 154.66 L478.14 156.18 L478.80 157.70 L479.46 159.24 L480.12 160.78 L480.79 162.34 L481.45 163.90" fill="none" stroke="#48ECF6" stroke-width="2" stroke-dasharray="2 8.75" stroke-dashoffset="7.14"/>
<path d="M350.29 163.90 L350.96 161.05 L351.64 158.26 L352.32 155.52 L353.00 152.84 L353.67 150.21 L354.35 147.63 L355.03 145.10 L355.70 142.62 L356.38 140.20 L357.06 137.82 L357.74 135.49 L358.41 133.22 L359.09 130.99 L359.77 128.80 L360.44 126.67 L361.12 124.58 L361.80 122.54 L362.48 120.54 L363.15 118.59 L363.83 116.69 L364.51 114.82 L365.18 113.00 L365.86 111.23 L366.54 109.49 L367.22 107.80 L367.89 106.15 L368.57 104.54 L369.25 102.98 L369.92 101.45 L370.60 99.96 L371.28 98.51 L371.96 97.10 L372.63 95.72 L373.31 94.39 L373.99 93.09 L374.66 91.83 L375.34 90.61 L376.02 89.42 L376.70 88.26 L377.37 87.14 L378.05 86.06 L378.73 85.01 L379.40 83.99 L380.08 83.01 L380.76 82.06 L381.44 81.14 L382.11 80.26 L382.79 79.40 L383.47 78.58 L384.14 77.79 L384.82 77.03 L385.50 76.29 L386.18 75.59 L386.85 74.92 L387.53 74.27 L388.21 73.66 L388.88 73.07 L389.56 72.51 L390.24 71.98 L390.92 71.47 L391.59 70.99 L392.27 70.54 L392.95 70.12 L393.62 69.71 L394.30 69.34 L394.98 68.99 L395.66 68.66 L396.33 68.36 L397.01 68.08 L397.69 67.83 L398.36 67.60 L399.04 67.39 L399.72 67.20 L400.40 67.04 L401.07 66.90 L401.75 66.78 L402.43 66.68 L403.10 66.61 L403.78 66.55 L404.46 66.52 L405.13 66.50 L405.81 66.51 L406.49 66.53 L407.17 66.58 L407.84 66.64 L408.52 66.72 L409.20 66.82 L409.87 66.95 L410.55 67.08 L411.23 67.24 L411.91 67.41 L412.58 67.61 L413.26 67.82 L413.94 68.04 L414.61 68.29 L415.29 68.55 L415.97 68.82 L416.65 69.12 L417.32 69.42 L418.00 69.75 L418.68 70.09 L419.35 70.45 L420.03 70.82 L420.71 71.20 L421.39 71.60 L422.06 72.02 L422.74 72.45 L423.42 72.89 L424.09 73.35 L424.77 73.83 L425.45 74.31 L426.13 74.81 L426.80 75.33 L427.48 75.86 L428.16 76.40 L428.83 76.95 L429.51 77.52 L430.19 78.10 L430.87 78.69 L431.54 79.30 L432.22 79.92 L432.90 80.55 L433.57 81.19 L434.25 81.84 L434.93 82.51 L435.61 83.19 L436.28 83.88 L436.96 84.59 L437.64 85.30 L438.31 86.03 L438.99 86.76 L439.67 87.51 L440.35 88.28 L441.02 89.05 L441.70 89.83 L442.38 90.63 L443.05 91.43 L443.73 92.25 L444.41 93.08 L445.09 93.92 L445.76 94.77 L446.44 95.63 L447.12 96.51 L447.79 97.39 L448.47 98.29 L449.15 99.19 L449.83 100.11 L450.50 101.04 L451.18 101.98 L451.86 102.92 L452.53 103.89 L453.21 104.86 L453.89 105.84 L454.57 106.83 L455.24 107.84 L455.92 108.85 L456.60 109.88 L457.27 110.92 L457.95 111.96 L458.63 113.02 L459.31 114.09 L459.98 115.18 L460.66 116.27 L461.34 117.37 L462.01 118.49 L462.69 119.62 L463.37 120.76 L464.05 121.91 L464.72 123.07 L465.40 124.24 L466.08 125.43 L466.75 126.63 L467.43 127.84 L468.11 129.06 L468.79 130.29 L469.46 131.54 L470.14 132.80 L470.82 134.07 L471.49 135.35 L472.17 136.65 L472.85 137.96 L473.53 139.28 L474.20 140.62 L474.88 141.97 L475.56 143.33 L476.23 144.71 L476.91 146.09 L477.59 147.50 L478.27 148.92 L478.94 150.35 L479.62 151.79 L480.30 153.25 L480.97 154.73 L481.65 156.22 L482.33 157.73 L483.01 159.25 L483.68 160.78 L484.36 162.33 L485.04 163.90" fill="none" stroke="#F4525A" stroke-width="2" stroke-dasharray="2 8.6" stroke-dashoffset="6.29"/>
<path d="M353.04 163.90 L353.66 161.27 L354.29 158.69 L354.91 156.16 L355.53 153.68 L356.15 151.25 L356.77 148.87 L357.39 146.53 L358.01 144.24 L358.63 142.00 L359.26 139.80 L359.88 137.65 L360.50 135.54 L361.12 133.48 L361.74 131.46 L362.36 129.48 L362.98 127.54 L363.61 125.65 L364.23 123.80 L364.85 121.99 L365.47 120.22 L366.09 118.49 L366.71 116.81 L367.33 115.16 L367.96 113.54 L368.58 111.97 L369.20 110.44 L369.82 108.94 L370.44 107.48 L371.06 106.06 L371.68 104.67 L372.30 103.32 L372.93 102.00 L373.55 100.72 L374.17 99.47 L374.79 98.25 L375.41 97.07 L376.03 95.92 L376.65 94.81 L377.28 93.72 L377.90 92.67 L378.52 91.65 L379.14 90.66 L379.76 89.71 L380.38 88.78 L381.00 87.88 L381.63 87.01 L382.25 86.17 L382.87 85.36 L383.49 84.57 L384.11 83.82 L384.73 83.09 L385.35 82.39 L385.97 81.72 L386.60 81.07 L387.22 80.45 L387.84 79.86 L388.46 79.29 L389.08 78.74 L389.70 78.22 L390.32 77.73 L390.95 77.26 L391.57 76.81 L392.19 76.39 L392.81 75.99 L393.43 75.61 L394.05 75.25 L394.67 74.92 L395.30 74.61 L395.92 74.32 L396.54 74.05 L397.16 73.81 L397.78 73.58 L398.40 73.38 L399.02 73.20 L399.64 73.03 L400.27 72.89 L400.89 72.76 L401.51 72.66 L402.13 72.57 L402.75 72.50 L403.37 72.46 L403.99 72.43 L404.62 72.41 L405.24 72.42 L405.86 72.44 L406.48 72.48 L407.10 72.54 L407.72 72.62 L408.34 72.71 L408.97 72.82 L409.59 72.94 L410.21 73.08 L410.83 73.24 L411.45 73.41 L412.07 73.60 L412.69 73.81 L413.31 74.03 L413.94 74.26 L414.56 74.51 L415.18 74.77 L415.80 75.05 L416.42 75.35 L417.04 75.65 L417.66 75.98 L418.29 76.31 L418.91 76.66 L419.53 77.03 L420.15 77.40 L420.77 77.79 L421.39 78.20 L422.01 78.61 L422.64 79.04 L423.26 79.49 L423.88 79.94 L424.50 80.41 L425.12 80.89 L425.74 81.39 L426.36 81.90 L426.98 82.42 L427.61 82.95 L428.23 83.49 L428.85 84.05 L429.47 84.62 L430.09 85.20 L430.71 85.79 L431.33 86.39 L431.96 87.01 L432.58 87.64 L433.20 88.28 L433.82 88.93 L434.44 89.59 L435.06 90.27 L435.68 90.95 L436.31 91.65 L436.93 92.36 L437.55 93.08 L438.17 93.81 L438.79 94.56 L439.41 95.31 L440.03 96.08 L440.65 96.86 L441.28 97.65 L441.90 98.45 L442.52 99.27 L443.14 100.09 L443.76 100.93 L444.38 101.78 L445.00 102.64 L445.63 103.51 L446.25 104.39 L446.87 105.29 L447.49 106.19 L448.11 107.11 L448.73 108.04 L449.35 108.98 L449.98 109.94 L450.60 110.91 L451.22 111.88 L451.84 112.88 L452.46 113.88 L453.08 114.89 L453.70 115.92 L454.32 116.96 L454.95 118.02 L455.57 119.08 L456.19 120.16 L456.81 121.26 L457.43 122.36 L458.05 123.48 L458.67 124.61 L459.30 125.76 L459.92 126.91 L460.54 128.09 L461.16 129.27 L461.78 130.47 L462.40 131.69 L463.02 132.92 L463.65 134.16 L464.27 135.42 L464.89 136.69 L465.51 137.98 L466.13 139.28 L466.75 140.60 L467.37 141.93 L468.00 143.28 L468.62 144.64 L469.24 146.02 L469.86 147.42 L470.48 148.83 L471.10 150.26 L471.72 151.71 L472.34 153.17 L472.97 154.65 L473.59 156.15 L474.21 157.66 L474.83 159.19 L475.45 160.74 L476.07 162.31 L476.69 163.90" fill="none" stroke="#48ECF6" stroke-width="2"/>
<path d="M353.02 163.90 L353.66 161.45 L354.29 159.05 L354.93 156.70 L355.57 154.39 L356.20 152.13 L356.84 149.91 L357.47 147.74 L358.11 145.60 L358.75 143.52 L359.38 141.47 L360.02 139.47 L360.66 137.50 L361.29 135.58 L361.93 133.70 L362.56 131.86 L363.20 130.07 L363.84 128.31 L364.47 126.58 L365.11 124.90 L365.75 123.26 L366.38 121.65 L367.02 120.08 L367.65 118.55 L368.29 117.05 L368.93 115.59 L369.56 114.17 L370.20 112.78 L370.83 111.43 L371.47 110.11 L372.11 108.82 L372.74 107.57 L373.38 106.35 L374.02 105.17 L374.65 104.01 L375.29 102.89 L375.92 101.80 L376.56 100.74 L377.20 99.72 L377.83 98.72 L378.47 97.75 L379.10 96.82 L379.74 95.91 L380.38 95.03 L381.01 94.18 L381.65 93.36 L382.29 92.57 L382.92 91.80 L383.56 91.06 L384.19 90.35 L384.83 89.67 L385.47 89.01 L386.10 88.38 L386.74 87.77 L387.37 87.19 L388.01 86.64 L388.65 86.11 L389.28 85.60 L389.92 85.12 L390.56 84.66 L391.19 84.23 L391.83 83.81 L392.46 83.43 L393.10 83.06 L393.74 82.72 L394.37 82.39 L395.01 82.09 L395.65 81.82 L396.28 81.56 L396.92 81.32 L397.55 81.11 L398.19 80.91 L398.83 80.74 L399.46 80.58 L400.10 80.44 L400.73 80.33 L401.37 80.23 L402.01 80.15 L402.64 80.09 L403.28 80.05 L403.92 80.03 L404.55 80.02 L405.19 80.03 L405.82 80.06 L406.46 80.11 L407.10 80.17 L407.73 80.25 L408.37 80.34 L409.00 80.46 L409.64 80.59 L410.28 80.73 L410.91 80.89 L411.55 81.06 L412.19 81.25 L412.82 81.46 L413.46 81.68 L414.09 81.92 L414.73 82.16 L415.37 82.43 L416.00 82.71 L416.64 83.00 L417.27 83.30 L417.91 83.62 L418.55 83.95 L419.18 84.30 L419.82 84.66 L420.46 85.03 L421.09 85.41 L421.73 85.81 L422.36 86.22 L423.00 86.64 L423.64 87.07 L424.27 87.51 L424.91 87.97 L425.55 88.44 L426.18 88.92 L426.82 89.41 L427.45 89.91 L428.09 90.43 L428.73 90.95 L429.36 91.49 L430.00 92.04 L430.63 92.59 L431.27 93.16 L431.91 93.74 L432.54 94.33 L433.18 94.93 L433.82 95.54 L434.45 96.16 L435.09 96.79 L435.72 97.43 L436.36 98.08 L437.00 98.74 L437.63 99.40 L438.27 100.08 L438.90 100.77 L439.54 101.47 L440.18 102.18 L440.81 102.89 L441.45 103.62 L442.09 104.35 L442.72 105.10 L443.36 105.85 L443.99 106.61 L444.63 107.38 L445.27 108.17 L445.90 108.96 L446.54 109.75 L447.17 110.56 L447.81 111.38 L448.45 112.20 L449.08 113.04 L449.72 113.88 L450.36 114.73 L450.99 115.59 L451.63 116.46 L452.26 117.34 L452.90 118.23 L453.54 119.12 L454.17 120.03 L454.81 120.94 L455.45 121.86 L456.08 122.80 L456.72 123.74 L457.35 124.68 L457.99 125.64 L458.63 126.61 L459.26 127.59 L459.90 128.57 L460.53 129.56 L461.17 130.57 L461.81 131.58 L462.44 132.60 L463.08 133.63 L463.72 134.67 L464.35 135.72 L464.99 136.78 L465.62 137.85 L466.26 138.92 L466.90 140.01 L467.53 141.11 L468.17 142.21 L468.80 143.33 L469.44 144.46 L470.08 145.59 L470.71 146.74 L471.35 147.90 L471.99 149.06 L472.62 150.24 L473.26 151.43 L473.89 152.63 L474.53 153.83 L475.17 155.05 L475.80 156.28 L476.44 157.52 L477.07 158.78 L477.71 160.04 L478.35 161.32 L478.98 162.60 L479.62 163.90" fill="none" stroke="#F4525A" stroke-width="2"/>
</g>
<rect x="390.4" y="195.8" width="139.4" height="103.3" fill="#fff" stroke="#969696" stroke-width="1"/>
<path d="M390.80 202.50h9.5M410.60 202.50H416.20" stroke="#48ECF6" stroke-width="2"/>
<text x="418.20" y="206.75" font-size="10.5">DYN3D Central</text>
<path d="M390.80 215.26h9.5M410.60 215.26H416.20" stroke="#F4525A" stroke-width="2"/>
<text x="418.20" y="219.51" font-size="10.5">DYN3D + CTF Central</text>
<path d="M390.80 228.02h4.6m4.4 0h4.6m4.4 0h4.6" stroke="#48ECF6" stroke-width="2"/>
<text x="418.20" y="232.27" font-size="10.5">DYN3D Side</text>
<path d="M390.80 240.78h4.6m4.4 0h4.6m4.4 0h4.6" stroke="#F4525A" stroke-width="2"/>
<text x="418.20" y="245.03" font-size="10.5">DYN3D + CTF Side</text>
<path d="M390.50 253.54h2m8.9 0h2m8.9 0h2" stroke="#48ECF6" stroke-width="2"/>
<text x="418.20" y="257.79" font-size="10.5">DYN3D Corner</text>
<path d="M390.50 266.30h2m8.9 0h2m8.9 0h2" stroke="#F4525A" stroke-width="2"/>
<text x="418.20" y="270.55" font-size="10.5">DYN3D + CTF Corner</text>
<path d="M390.80 279.06H416.20" stroke="#48ECF6" stroke-width="2"/>
<text x="418.20" y="283.31" font-size="10.5">DYN3D Average</text>
<path d="M390.80 291.82H416.20" stroke="#F4525A" stroke-width="2"/>
<text x="418.20" y="296.07" font-size="10.5">DYN3D + CTF Average</text>
<text x="409.5" y="317.9" text-anchor="middle" font-family="Liberation Serif, serif" font-weight="bold" font-size="15" style="stroke:none"><tspan font-size="16" font-weight="normal" dy="0.5" style="stroke:#161616;stroke-width:0.45px">(</tspan><tspan dy="-0.5">b</tspan><tspan font-size="16" font-weight="normal" dy="0.5" style="stroke:#161616;stroke-width:0.45px">)</tspan></text>
</svg>
</body></html>
